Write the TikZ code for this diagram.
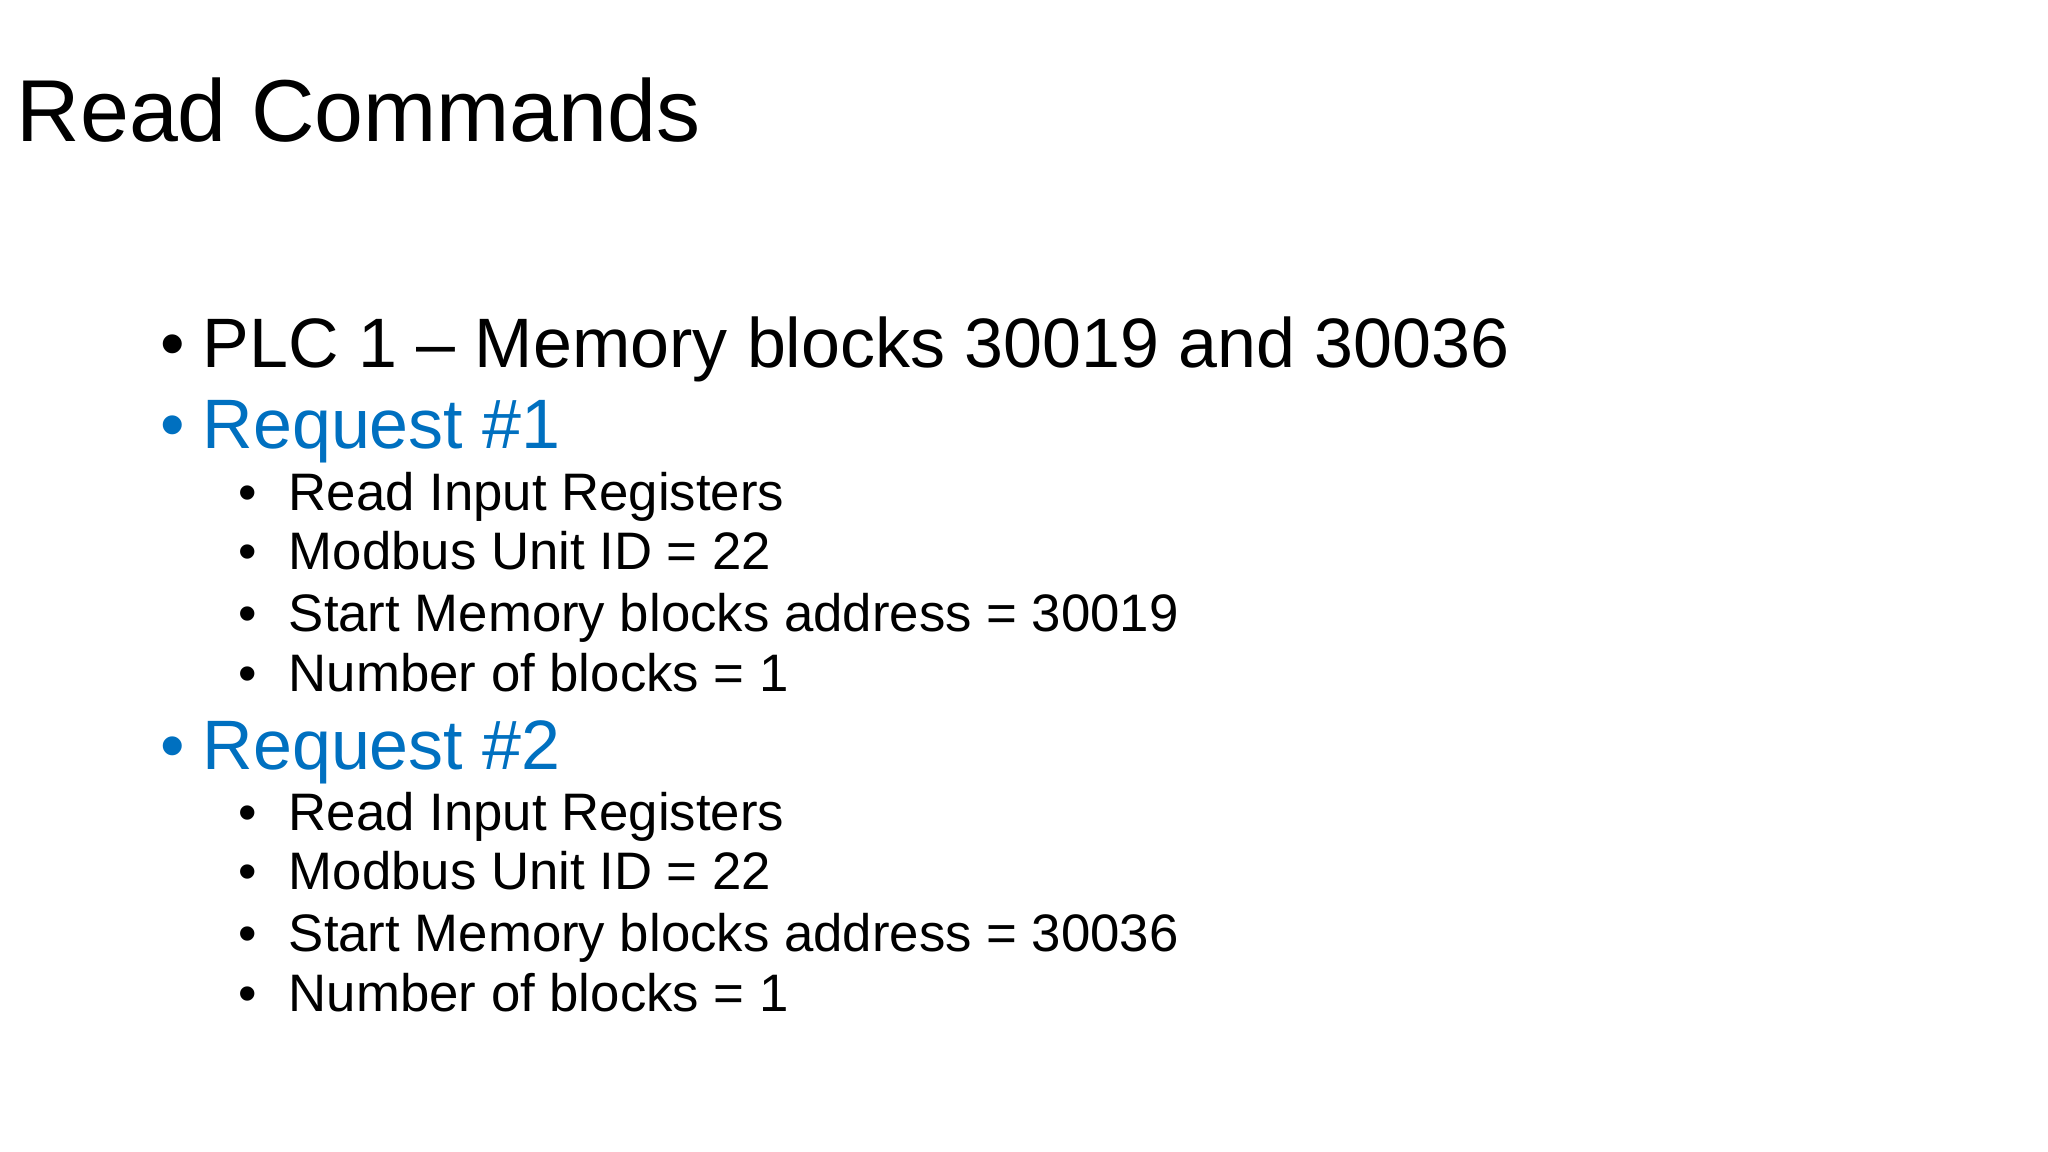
\documentclass[tikz,border=0pt]{standalone}
\usepackage{fontspec}
\setmainfont{Liberation Sans}
\definecolor{reqblue}{RGB}{0,112,192}
\begin{document}
\begin{tikzpicture}[x=0.01cm, y=-0.01cm,
  title/.style={anchor=base west, inner sep=0, font=\fontsize{25}{30}\selectfont},
  lvlA/.style={anchor=base west, inner sep=0, font=\fontsize{19.9}{24}\selectfont},
  lvlB/.style={anchor=base west, inner sep=0, font=\fontsize{15}{18}\selectfont}]
\useasboundingbox (0,0) rectangle (2048,1152);
\node[title] (title) at (16,142) {Read Commands};
\node[lvlA] (plc) at (160,368) {\textbullet\hspace{0.25em}PLC 1 -- Memory blocks 30019 and 30036};
\node[lvlA, reqblue] (reqA) at (160,449) {\textbullet\hspace{0.25em}Request \#1};
\node[lvlB] (a1) at (238,511) {\textbullet\hspace{0.6em}Read Input Registers};
\node[lvlB] (a2) at (238,570) {\textbullet\hspace{0.6em}Modbus Unit ID = 22};
\node[lvlB] (a3) at (238,631) {\textbullet\hspace{0.6em}Start Memory blocks address = 30019};
\node[lvlB] (a4) at (238,692) {\textbullet\hspace{0.6em}Number of blocks = 1};
\node[lvlA, reqblue] (reqB) at (160,769) {\textbullet\hspace{0.25em}Request \#2};
\node[lvlB] (b1) at (238,830) {\textbullet\hspace{0.6em}Read Input Registers};
\node[lvlB] (b2) at (238,889) {\textbullet\hspace{0.6em}Modbus Unit ID = 22};
\node[lvlB] (b3) at (238,951) {\textbullet\hspace{0.6em}Start Memory blocks address = 30036};
\node[lvlB] (b4) at (238,1011) {\textbullet\hspace{0.6em}Number of blocks = 1};
\end{tikzpicture}
\end{document}
